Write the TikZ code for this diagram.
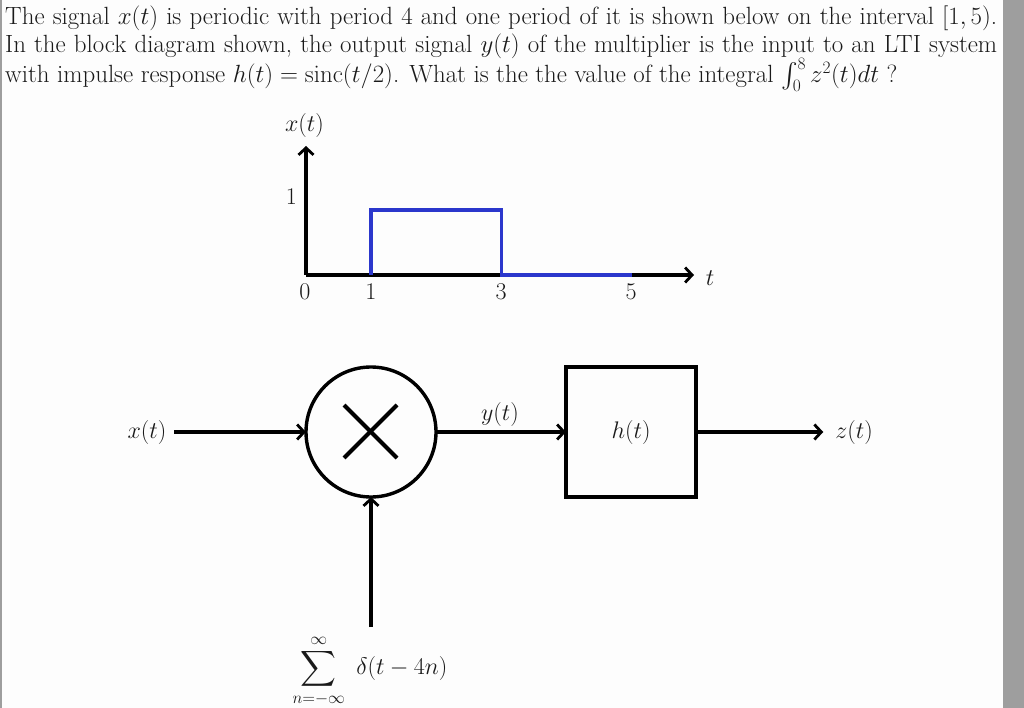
\RequirePackage{fix-cm}
\documentclass[tikz,border=0pt]{standalone}
\usepackage{amsmath}
\usetikzlibrary{arrows.meta}
\definecolor{sigblue}{HTML}{2B37CC}
\definecolor{band}{HTML}{9E9E9E}
\definecolor{paper}{HTML}{FDFDFD}
\definecolor{ink}{HTML}{1A1A1A}
\tikzset{
  wire/.style={line width=3.3pt,black},
  sig/.style={wire,-{Straight Barb[length=7pt,width=15pt,line width=2.8pt]}},
  pulse/.style={line width=3.6pt,draw=sigblue},
  lab/.style={inner sep=0pt,outer sep=0pt,text=ink,font=\fontsize{24}{30}\selectfont},
  para/.style={inner sep=0pt,anchor=base west,text=ink,font=\fontsize{24.9}{30}\selectfont}
}
\begin{document}
\begin{tikzpicture}[x=1pt,y=-1pt]
\useasboundingbox (0,0) rectangle (1024,708);
\fill[paper] (0,0) rectangle (1024,708);
\fill[band] (1003,0) rectangle (1024,708);
\fill[band] (0,0) rectangle (1.5,708);
% question
\node[para] (l1) at (5,25) {\hbox to 992pt{The signal $x(t)$ is periodic with period 4 and one period of it is shown below on the interval $[1,5)$.}};
\node[para] (l2) at (5,53) {\hbox to 992pt{In the block diagram shown, the output signal $y(t)$ of the multiplier is the input to an LTI system}};
\node[para] (l3) at (5,83) {with impulse response $h(t)=\mathrm{sinc}(t/2)$. What is the the value of the integral $\int_0^8 z^2(t)dt$ ?};
% plot
\coordinate (o) at (306,275);
\coordinate (ytop) at (306,146);
\coordinate (xend) at (694,275);
\coordinate (p1) at (371,275);
\coordinate (p1t) at (371,210);
\coordinate (p3t) at (501.5,210);
\coordinate (p3) at (501.5,275);
\coordinate (p5) at (632,275);
\draw[sig] (o) -- (ytop);
\draw[sig] (o) -- (xend);
\draw[pulse,line join=miter] (p1) -- (p1t) -- (p3t) -- (p3) -- (p5);
\node[lab] (xt) at (304.5,125.5) {$x(t)$};
\node[lab] (one) at (291.5,197) {1};
\node[lab] (t0) at (305,292) {0};
\node[lab] (t1) at (371,292) {1};
\node[lab] (t3) at (501,292) {3};
\node[lab] (t5) at (631,292) {5};
\node[lab] (tt) at (710,278) {$t$};
% block diagram
\node[circle,draw=black,line width=3.4pt,minimum size=130pt,inner sep=0pt,outer sep=0pt] (mult) at (371,432) {};
\draw[line width=4pt] (344,405) -- (397,458);
\draw[line width=4pt] (397,405) -- (344,458);
\node[draw=black,line width=3.4pt,minimum size=130pt,inner sep=0pt,outer sep=0pt] (hbox) at (631,432) {};
\node[lab] (hlab) at (631,432) {$h(t)$};
\node[lab] (xin) at (147,432) {$x(t)$};
\node[lab] (zout) at (854,432) {$z(t)$};
\node[lab] (ylab) at (500,414) {$y(t)$};
\node[lab] (sum) at (370,671) {$\displaystyle\sum_{n=-\infty}^{\infty}\ \delta(t-4n)$};
\coordinate (xstart) at ([xshift=8pt]xin.east |- mult.west);
\coordinate (zend) at ([xshift=-12pt]zout.west |- hbox.east);
\coordinate (dstart) at (371,627);
\draw[sig] (xstart) -- (mult.west);
\draw[sig] (mult.east) -- (hbox.west);
\draw[sig] (hbox.east) -- (zend);
\draw[sig] (dstart) -- (mult.south);
\end{tikzpicture}
\end{document}
